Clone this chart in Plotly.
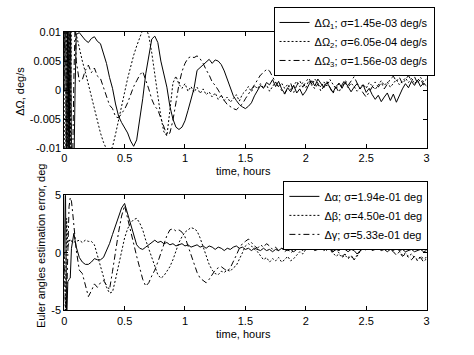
import numpy as np
import plotly.graph_objects as go

# ---------------- data ----------------
t_early = [0.0, 0.01, 0.02, 0.03, 0.04, 0.05, 0.06, 0.07, 0.08, 0.09]
t_main = list(np.round(np.arange(0.1, 3.0001, 0.025), 4))
time_h = t_early + t_main

# angular-rate errors, in 1e-3 deg/s
dW1 = [0, 35, -30, 25, -20, 22, -15, -16, -14, 0,
       9.6, 9.9, 9.2, 8.6, 8.2, 8.9, 9.2, 8.4, 8.0, 6.2,
       4.6, 2.2, 0.3, -2.4, -4.5, -5.6, -6.5, -7.4, -8.8, -9.7,
       -8.6, -5.4, -1.5, 2.8, 6.2, 8.8, 9.3, 8.2, 5.0, 2.8,
       0.5, -2.8, -5.0, -6.4, -6.8, -6.4, -5.3, -3.5, -1.5, 0.3,
       3.4, 3.9, 4.3, 4.8, 5.3, 4.6, 5.2, 5.0, 4.4, 3.3,
       1.8, 0.3, -1.0, -1.8, -2.5, -2.9, -3.2, -2.8, -2.2, -1.0,
       -0.2, 0.8, 0.3, 1.3, 0.9, 1.8, 0.6, 1.5, 0.2, -0.6,
       0.4, -0.3, 0.8, -0.5, 0.2, -0.9, -0.2, 0.9, 1.6, 0.7,
       1.9, 1.1, 0.4, 1.3, 0.5, -0.4, 0.6, 1.2, 0.3, 1.4,
       0.6, -0.3, 0.5, 1.1, 0.2, 0.9, -0.4, 0.3, -0.8, -1.6,
       -0.9, -2.0, -1.2, -0.5, -1.8, -0.7, -2.1, -0.9, 0.2, 1.1,
       0.4, 1.5, 0.8, 1.7, 0.6, 1.2, 0.7]
dW2 = [0, -30, 25, -20, 15, -12, 14, 12, 11, 10.5,
       9.5, 7.2, 5.0, 3.1, 1.0, -1.4, -3.5, -5.6, -7.4, -9.0,
       -10.2, -10.6, -9.8, -7.6, -5.0, -2.6, -0.4, 2.0, 4.1, 6.0,
       7.6, 9.1, 10.4, 10.8, 9.4, 6.4, 2.8, -1.2, -4.6, -7.2,
       -7.9, -3.5, 1.2, 2.4, 1.0, 0.3, 1.1, -0.2, 0.6, -0.4,
       0.5, -0.6, 0.2, -0.8, -0.3, -1.2, -0.5, -1.6, -0.9, -1.8,
       -1.2, -2.1, -1.5, -0.8, -1.9, -0.7, -0.2, 0.6, -0.3, 0.8,
       0.2, 1.1, 0.4, 0.9, -0.2, 0.7, 1.4, 0.5, 1.2, 0.3,
       1.0, 0.1, 0.8, 1.5, 0.6, 1.3, 0.4, 1.6, 0.8, 1.9,
       1.2, 0.5, 1.4, 0.7, 1.8, 0.9, 0.2, 1.1, 0.5, 1.3,
       0.4, 1.2, 0.6, -0.2, 0.5, 1.0, 0.3, 1.3, 0.7, 0.1,
       0.9, 1.6, 0.8, 1.4, 0.5, 1.1, 1.8, 0.9, 1.5, 2.1,
       1.3, 2.0, 1.1, 1.7, 2.2, 1.4, 1.9]
dW3 = [0, 28, -25, 20, -18, 16, -14, -12, 2, 11,
       5.0, 1.5, 1.8, 3.4, 4.3, 3.0, 3.8, 2.4, 2.0, 0.5,
       -1.2, -2.6, -3.2, -4.6, -4.8, -4.0, -3.3, -2.2, -0.8, 0.6,
       1.6, 2.6, 3.2, 1.8, 0.2, -1.6, -2.8, -3.4, -5.0, -6.6,
       -7.8, -7.4, -5.2, -2.2, 1.0, 3.2, 4.6, 5.5, 5.8, 5.6,
       5.9, 5.4, 4.6, 3.5, 2.6, 1.4, 0.8, 0.0, -1.0, -1.8,
       -2.5, -2.9, -3.2, -3.4, -2.9, -2.4, -1.5, -0.8, 0.1, 0.9,
       1.8, 2.6, 3.0, 3.6, 3.3, 2.2, 1.3, 0.6, 0.0, -0.7,
       0.3, 1.2, -0.4, 0.8, 1.6, 0.5, 1.4, 2.1, 1.0, 0.2,
       1.1, -0.2, 0.7, 1.5, 0.4, -0.6, 0.5, -0.4, 0.9, 1.8,
       0.8, 1.6, 2.3, 1.2, 0.3, -0.5, -1.2, -0.3, 0.6, 1.4,
       0.5, 1.3, 0.2, 1.0, 1.9, 2.4, 1.5, 2.2, 1.1, 1.8,
       2.5, 1.6, 2.3, 1.2, 1.9, 0.9, 1.4]

# Euler angle errors, deg
d_alpha = [0, 6, -6, -2.5, -2.3, -2.2, 0.4, 1.0, 1.7, 1.1,
           0.5, -0.4, -0.8, -1.0, -1.0, -0.8, -0.5, -0.6, -0.6, -0.4,
           0.2, 0.8, 1.6, 2.4, 3.2, 3.9, 4.3, 3.4, 2.4, 1.5,
           0.7, 0.4, 0.3, 0.5, 0.7, 0.9, 1.1, 0.9, 1.0, 0.8,
           0.9, 0.7, 0.8, 0.6, 0.7, 0.8, 0.6, 0.7, 0.5, 0.6,
           0.7, 0.5, 0.6, 0.4, 0.6, 0.5, 0.3, 0.5, 0.4, 0.2,
           0.4, 0.3, 0.5, 0.6, 0.4, 0.5, 0.3, 0.4, 0.2, 0.4,
           0.3, 0.2, 0.4, 0.2, 0.3, 0.1, 0.3, 0.2, 0.4, 0.3,
           0.2, 0.3, 0.1, 0.3, 0.4, 0.2, 0.5, 0.3, 0.4, 0.2,
           0.3, 0.5, 0.2, 0.4, 0.3, 0.1, 0.3, 0.2, 0.4, 0.3,
           0.1, 0.3, 0.2, -0.1, 0.2, 0.4, 0.3, 0.5, 0.2, 0.3,
           0.4, 0.2, 0.3, 0.1, 0.3, 0.2, 0.4, 0.2, 0.3, 0.1,
           0.2, 0.3, 0.1, 0.2, 0.3, 0.1, 0.2]
d_beta = [0, -5, 3, 0.5, 1.0, 1.2, 1.0, 1.0, 0.9, 1.0,
          1.0, 1.1, 0.9, 1.1, 1.0, 1.0, 0.7, -0.2, -1.2, -2.2,
          -3.0, -3.5, -3.4, -2.3, -1.0, 0.3, 1.3, 2.1, 2.6, 2.9,
          3.0, 2.6, 2.0, 1.1, 0.3, -0.5, -1.3, -1.9, -2.2, -2.0,
          -1.6, -1.2, -0.6, 0.2, 0.9, 1.4, 1.8, 2.0, 2.2, 2.1,
          1.9, 1.3, 0.5, -0.3, -1.0, -1.5, -1.8, -1.9, -1.6, -1.7,
          -1.5, -1.6, -1.3, -1.1, -0.6, 0.0, 0.6, 0.8, 0.6, 0.3,
          0.1, -0.3, -0.6, -0.4, -0.8, -0.5, -0.7, -0.4, -0.8, -0.6,
          -0.3, -0.7, -0.5, -0.2, 0.1, -0.1, 0.3, 0.5, 0.2, 0.6,
          0.4, 0.7, 0.3, 0.5, 0.2, 0.0, -0.3, -0.1, -0.4, -0.2,
          -0.5, -0.3, -0.6, -0.2, 0.1, 0.4, 0.2, 0.6, 0.3, 0.7,
          0.4, 0.8, 0.5, 0.9, 0.6, 0.3, 0.5, 0.1, -0.2, 0.0,
          -0.3, -0.1, -0.4, -0.6, -0.3, -0.5, -0.4]
d_gamma = [0, -6, -4, 1, 4, 4.8, 4.5, 3.5, 2.3, 1.2,
           0.2, -1.5, -1.8, -2.8, -3.8, -3.3, -2.7, -3.0, -2.6, -2.4,
           -2.8, -3.2, -1.6, 0.2, 1.8, 3.2, 4.1, 3.0, 1.8, 0.8,
           -0.3, -1.3, -2.3, -2.9, -2.6, -2.0, -1.5, -0.8, 0.0, 0.8,
           1.5, 2.0, 2.1, 1.9, 2.0, 1.8, 1.4, 0.6, -0.2, -1.0,
           -1.7, -2.2, -2.4, -2.6, -2.3, -1.9, -1.5, -1.3, -1.2, -1.4,
           -1.6, -1.3, -0.8, -0.2, 0.4, 0.8, 1.0, 1.2, 0.9, 0.6,
           0.4, 0.7, 0.5, 0.8, 0.6, 0.3, 0.5, 0.2, 0.4, 0.1,
           0.3, 0.0, 0.2, 0.5, 0.3, 0.7, 0.9, 0.6, 1.0, 0.7,
           0.5, 0.8, 0.4, 0.2, 0.5, 0.1, 0.3, 0.0, -0.3, -0.1,
           -0.4, -0.2, -0.6, -0.3, 0.2, 0.6, 0.9, 1.2, 0.8, 1.1,
           0.7, 1.0, 0.5, 0.8, 0.3, 0.1, -0.2, 0.1, -0.3, -0.1,
           -0.4, -0.6, -0.3, -0.7, -0.4, -0.8, -0.5]

top_names = ["ΔΩ<sub>1</sub>; σ=1.45e-03 deg/s",
             "ΔΩ<sub>2</sub>; σ=6.05e-04 deg/s",
             "ΔΩ<sub>3</sub>; σ=1.56e-03 deg/s"]
bot_names = ["Δα; σ=1.94e-01 deg", "Δβ; σ=4.50e-01 deg", "Δγ; σ=5.33e-01 deg"]
dashes = ["solid", "2px,2px", "6px,3px,2px,3px"]

x_ticks = [0, 0.5, 1, 1.5, 2, 2.5, 3]
x_ticktext = ["0", "0.5", "1", "1.5", "2", "2.5", "3"]
top_yticks = [-0.01, -0.005, 0, 0.005, 0.01]
top_yticktext = ["-0.01", "-0.005", "0", "0.005", "0.01"]
bot_yticks = [-5, 0, 5]
bot_yticktext = ["-5", "0", "5"]

# ---------------- figure ----------------
W, H = 474, 355
FONT = "Liberation Sans, Arial, sans-serif"
fig = go.Figure()

for ys, name, d in zip([dW1, dW2, dW3], top_names, dashes):
    yy = np.array(ys) * 1e-3
    fig.add_trace(go.Scatter(x=time_h[:len(yy)], y=yy, mode="lines", name=name,
                             line=dict(color="black", width=1, dash=d),
                             xaxis="x", yaxis="y", legend="legend"))
for ys, name, d in zip([d_alpha, d_beta, d_gamma], bot_names, dashes):
    fig.add_trace(go.Scatter(x=time_h[:len(ys)], y=ys, mode="lines", name=name,
                             line=dict(color="black", width=1, dash=d),
                             xaxis="x2", yaxis="y2", legend="legend2"))

def px_x(p):
    return p / W

def px_y(p):
    return 1 - p / H

ax_common = dict(showline=True, linecolor="black", linewidth=1, mirror="ticks",
                 ticks="inside", ticklen=4, tickcolor="black", showgrid=False,
                 zeroline=False, tickfont=dict(family=FONT, size=11, color="black"))

fig.update_layout(
    width=W, height=H,
    margin=dict(l=0, r=0, t=0, b=0),
    paper_bgcolor="white", plot_bgcolor="white",
    font=dict(family=FONT, size=11, color="black"),
    xaxis=dict(domain=[px_x(62), px_x(429)], range=[0, 3], anchor="y",
               tickvals=x_ticks, ticktext=x_ticktext, **ax_common),
    yaxis=dict(domain=[px_y(147), px_y(27)], range=[-0.01, 0.01], anchor="x",
               tickvals=top_yticks, ticktext=top_yticktext, **ax_common),
    xaxis2=dict(domain=[px_x(62), px_x(429)], range=[0, 3], anchor="y2",
                tickvals=x_ticks, ticktext=x_ticktext, **ax_common),
    yaxis2=dict(domain=[px_y(315), px_y(196)], range=[-5, 5], anchor="x2",
                tickvals=bot_yticks, ticktext=bot_yticktext, **ax_common),
    legend=dict(x=px_x(274), y=px_y(1), xanchor="left", yanchor="top",
                bgcolor="white", bordercolor="black", borderwidth=1,
                font=dict(family=FONT, size=11, color="black"),
                tracegroupgap=0),
    legend2=dict(x=px_x(284), y=px_y(181), xanchor="left", yanchor="top",
                 bgcolor="white", bordercolor="black", borderwidth=1,
                 font=dict(family=FONT, size=11, color="black"),
                 tracegroupgap=0),
    showlegend=True,
)

annots = [
    dict(text="time, hours", x=px_x(244), y=px_y(171)),
    dict(text="time, hours", x=px_x(244), y=px_y(339)),
    dict(text="ΔΩ, deg/s", x=px_x(17), y=px_y(88), textangle=-90),
    dict(text="Euler angles estimation error, deg", x=px_x(38), y=px_y(249), textangle=-90),
]
for a in annots:
    fig.add_annotation(xref="paper", yref="paper", showarrow=False,
                       xanchor="center", yanchor="middle",
                       font=dict(family=FONT, size=11, color="black"), **a)

fig.write_html("out.html")
